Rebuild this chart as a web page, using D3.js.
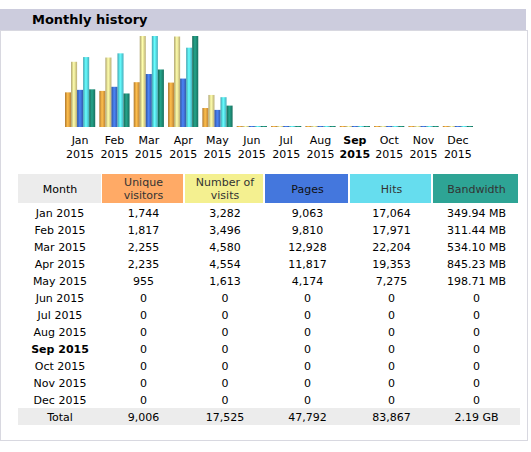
<!DOCTYPE html><html><head><meta charset="utf-8"><script src="https://cdn.jsdelivr.net/npm/d3@7"></script>
<style>body{margin:0;background:#fff;font-family:"DejaVu Sans",Verdana,sans-serif}</style></head><body><svg id="c" width="531" height="452"></svg>
<script>
const months=["Jan","Feb","Mar","Apr","May","Jun","Jul","Aug","Sep","Oct","Nov","Dec"];
const visitors=[1744,1817,2255,2235,955,0,0,0,0,0,0,0];
const visits=[3282,3496,4580,4554,1613,0,0,0,0,0,0,0];
const pages=[9063,9810,12928,11817,4174,0,0,0,0,0,0,0];
const hits=[17064,17971,22204,19353,7275,0,0,0,0,0,0,0];
const bandwidth=[349.94,311.44,534.10,845.23,198.71,0,0,0,0,0,0,0];
const bwLabels=["349.94 MB","311.44 MB","534.10 MB","845.23 MB","198.71 MB","0","0","0","0","0","0","0"];
const totals=["9,006","17,525","47,792","83,867","2.19 GB"];
const colors=["#FFAA66","#F4F090","#4477DD","#66DDEE","#2EA495"];
const barCols=["#E8A040","#E6D890","#3F6FD0","#55D8EA","#1E8A74"];
const headers=[["Unique","visitors"],["Number of","visits"],["Pages"],["Hits"],["Bandwidth"]];
const svg=d3.select("#c");
const defs=svg.append("defs");
barCols.forEach((c,i)=>{const g=defs.append("linearGradient").attr("id","g"+i);
 g.append("stop").attr("offset","0%").attr("stop-color",d3.color(c).darker(0.8));
 g.append("stop").attr("offset","45%").attr("stop-color",d3.color(c).brighter(0.5));
 g.append("stop").attr("offset","100%").attr("stop-color",d3.color(c).darker(0.6));});
// header bar
svg.append("rect").attr("x",0).attr("y",9).attr("width",526).attr("height",21).attr("fill","#CCCCDD");
svg.append("text").attr("x",32).attr("y",24).attr("font-size",13).attr("font-weight","bold").text("Monthly history");
svg.append("rect").attr("x",0.5).attr("y",30.5).attr("width",527).attr("height",410).attr("fill","none").attr("stroke","#d8d8e0");
// chart
const x=d3.scaleBand().domain(months).range([65,473]).paddingInner(0.12).paddingOuter(0);
const sub=d3.scaleBand().domain([0,1,2,3,4]).range([0,x.bandwidth()]);
const yV=d3.scaleLinear().domain([0,d3.max(visits)]).range([127,36]);
const yH=d3.scaleLinear().domain([0,d3.max(hits)]).range([127,36]);
const yB=d3.scaleLinear().domain([0,d3.max(bandwidth)]).range([127,36]);
const series=[[visitors,yV],[visits,yV],[pages,yH],[hits,yH],[bandwidth,yB]];
series.forEach(([arr,y],i)=>{
 svg.append("g").selectAll("rect").data(arr).join("rect")
  .attr("x",(d,j)=>x(months[j])+sub(i)).attr("width",sub.bandwidth())
  .attr("y",d=>Math.min(y(d),126)).attr("height",d=>Math.max(127-y(d),1))
  .attr("fill","url(#g"+i+")");
});
const lab=svg.append("g").attr("font-size",11);
months.forEach((m,j)=>{const cx=x(m)+x.bandwidth()/2;const b=m==="Sep"?"bold":"normal";
 lab.append("text").attr("x",cx).attr("y",144).attr("text-anchor","middle").attr("font-weight",b).text(m);
 lab.append("text").attr("x",cx).attr("y",158).attr("text-anchor","middle").attr("font-weight",b).text("2015");});
// table
const colX=[18,102,185,265,350,433,520];
const t=svg.append("g").attr("font-size",11);
t.append("rect").attr("x",colX[0]).attr("y",174).attr("width",colX[1]-colX[0]-1).attr("height",29).attr("fill","#ECECEC");
t.append("text").attr("x",(colX[0]+colX[1])/2).attr("y",193).attr("text-anchor","middle").text("Month");
headers.forEach((h,i)=>{t.append("rect").attr("x",colX[i+1]).attr("y",174).attr("width",colX[i+2]-colX[i+1]-2).attr("height",29).attr("fill",colors[i]);
 const cx=(colX[i+1]+colX[i+2])/2;
 h.forEach((s,k)=>t.append("text").attr("x",cx).attr("y",h.length===1?193:186+k*13).attr("text-anchor","middle").attr("fill",i===2?"#111":"#333").text(s));});
const fmt=d3.format(",");
months.forEach((m,j)=>{const y=217+j*17;const cells=[m+" 2015",fmt(visitors[j]),fmt(visits[j]),fmt(pages[j]),fmt(hits[j]),bwLabels[j]];
 cells.forEach((c,i)=>t.append("text").attr("x",(colX[i]+colX[i+1])/2).attr("y",y).attr("text-anchor","middle").attr("font-weight",m==="Sep"&&i===0?"bold":"normal").text(c));});
t.append("rect").attr("x",colX[0]).attr("y",408).attr("width",colX[6]-colX[0]).attr("height",17).attr("fill","#ECECEC");
["Total",...totals].forEach((c,i)=>t.append("text").attr("x",(colX[i]+colX[i+1])/2).attr("y",421).attr("text-anchor","middle").text(c));
</script></body></html>
